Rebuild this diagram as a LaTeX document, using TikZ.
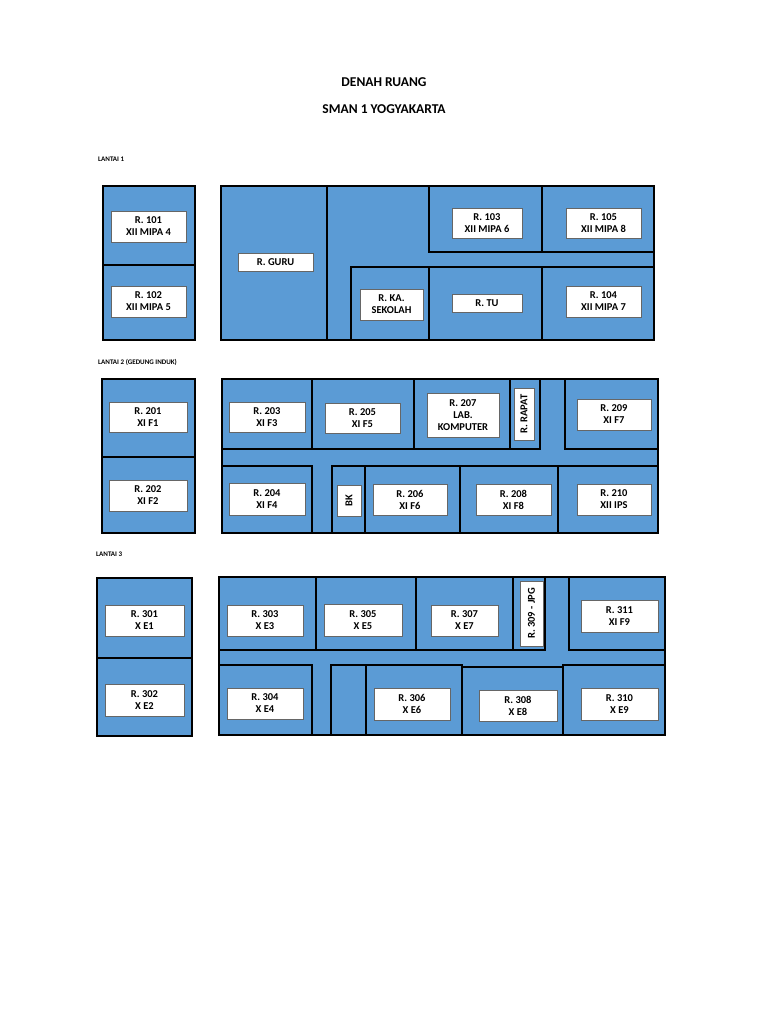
\documentclass[tikz,border=0pt]{standalone}
\usepackage{fontspec}
\setmainfont{Carlito}
\definecolor{rb}{HTML}{5B9BD5}
\begin{document}
\begin{tikzpicture}[x=1pt,y=-1pt,
  rm/.style={draw=black,fill=rb,line width=1.6pt},
  lb/.style={draw=black!60,fill=white,line width=0.6pt},
  lt/.style={font=\bfseries\fontsize{10.5}{12}\selectfont,align=center,inner sep=0pt},
  fl/.style={font=\bfseries\fontsize{7}{8}\selectfont,anchor=west,inner sep=0pt}]
\useasboundingbox (0,0) rectangle (768,1024);
\newcommand\rmb[4]{\draw[rm] (#1,#2) rectangle (#3,#4);}
\newcommand\lbx[6]{\draw[lb] (#2,#3) rectangle (#4,#5);\node[lt] (#1) at ({(#2+#4)/2},{(#3+#5)/2}) {#6};}
\node[font=\bfseries\fontsize{13.5}{15}\selectfont] (t1) at (384,82) {DENAH RUANG};
\node[font=\bfseries\fontsize{13.5}{15}\selectfont] (t2) at (384,109) {SMAN 1 YOGYAKARTA};
% floor 1
\node[fl] (f1) at (98,159) {LANTAI 1};
\rmb{103}{186}{195}{265}\rmb{103}{265}{195}{340}
\rmb{221}{186}{654}{340}
\rmb{221}{186}{327}{340}
\rmb{429}{186}{542}{252}\rmb{542}{186}{654}{252}
\rmb{351}{267}{429}{340}\rmb{429}{267}{542}{340}\rmb{542}{267}{654}{340}
\lbx{a101}{111}{211}{186}{242}{R. 101\\XII MIPA 4}
\lbx{a102}{111}{286}{186}{317}{R. 102\\XII MIPA 5}
\lbx{aguru}{238}{253}{313}{271}{R. GURU}
\lbx{a103}{452}{208}{522}{238}{R. 103\\XII MIPA 6}
\lbx{a105}{566}{208}{641}{238}{R. 105\\XII MIPA 8}
\lbx{aka}{360}{289}{423}{320}{R. KA.\\SEKOLAH}
\lbx{atu}{452}{294}{522}{312}{R. TU}
\lbx{a104}{566}{286}{641}{317}{R. 104\\XII MIPA 7}
% floor 2
\node[fl] (f2) at (98,362) {LANTAI 2 (GEDUNG INDUK)};
\rmb{102}{379}{195}{457}\rmb{102}{457}{195}{533}
\rmb{222}{379}{658}{533}
\rmb{222}{379}{312}{449}\rmb{312}{379}{414}{449}\rmb{414}{379}{510}{449}\rmb{510}{379}{540}{449}\rmb{565}{379}{658}{449}
\rmb{222}{466}{312}{533}\rmb{332}{466}{365}{533}\rmb{365}{466}{460}{533}\rmb{460}{466}{558}{533}\rmb{558}{466}{658}{533}
\lbx{b201}{109}{402}{187}{432}{R. 201\\XI F1}
\lbx{b202}{109}{480}{187}{511}{R. 202\\XI F2}
\lbx{b203}{229}{402}{305}{432}{R. 203\\XI F3}
\lbx{b205}{325}{403}{400}{433}{R. 205\\XI F5}
\lbx{b207}{427}{393}{499}{437}{R. 207\\LAB.\\KOMPUTER}
\draw[lb] (514,388) rectangle (534,440);
\node[lt,rotate=90] (brapat) at (524,414) {R. RAPAT};
\lbx{b209}{577}{399}{651}{430}{R. 209\\XI F7}
\lbx{b204}{229}{483}{305}{515}{R. 204\\XI F4}
\draw[lb] (337,485) rectangle (361,516);
\node[lt,rotate=90] (bbk) at (349,500.5) {BK};
\lbx{b206}{373}{484}{447}{515}{R. 206\\XI F6}
\lbx{b208}{476}{484}{551}{515}{R. 208\\XI F8}
\lbx{b210}{577}{484}{651}{515}{R. 210\\XII IPS}
% floor 3
\node[fl] (f3) at (96,554) {LANTAI 3};
\rmb{97}{578}{192}{658}\rmb{97}{658}{192}{736}
\rmb{219}{577}{665}{735}
\rmb{219}{577}{316}{650}\rmb{316}{577}{416}{650}\rmb{416}{577}{513}{650}\rmb{513}{577}{545}{650}\rmb{569}{577}{665}{650}
\rmb{219}{665}{312}{735}\rmb{331}{665}{366}{735}\rmb{366}{665}{462}{735}\rmb{462}{667}{563}{735}\rmb{563}{665}{665}{735}
\lbx{c301}{105}{605}{184}{636}{R. 301\\X E1}
\lbx{c302}{105}{684}{184}{716}{R. 302\\X E2}
\lbx{c303}{227}{605}{303}{636}{R. 303\\X E3}
\lbx{c305}{324}{604}{402}{636}{R. 305\\X E5}
\lbx{c307}{431}{605}{498}{636}{R. 307\\X E7}
\draw[lb] (520,581) rectangle (543,646);
\node[lt,rotate=90] (c309) at (531.5,613.5) {R. 309 - JPG};
\lbx{c311}{581}{600}{658}{632}{R. 311\\XI F9}
\lbx{c304}{227}{688}{303}{719}{R. 304\\X E4}
\lbx{c306}{374}{688}{450}{720}{R. 306\\X E6}
\lbx{c308}{479}{690}{557}{721}{R. 308\\X E8}
\lbx{c310}{581}{688}{658}{720}{R. 310\\X E9}
\end{tikzpicture}
\end{document}
